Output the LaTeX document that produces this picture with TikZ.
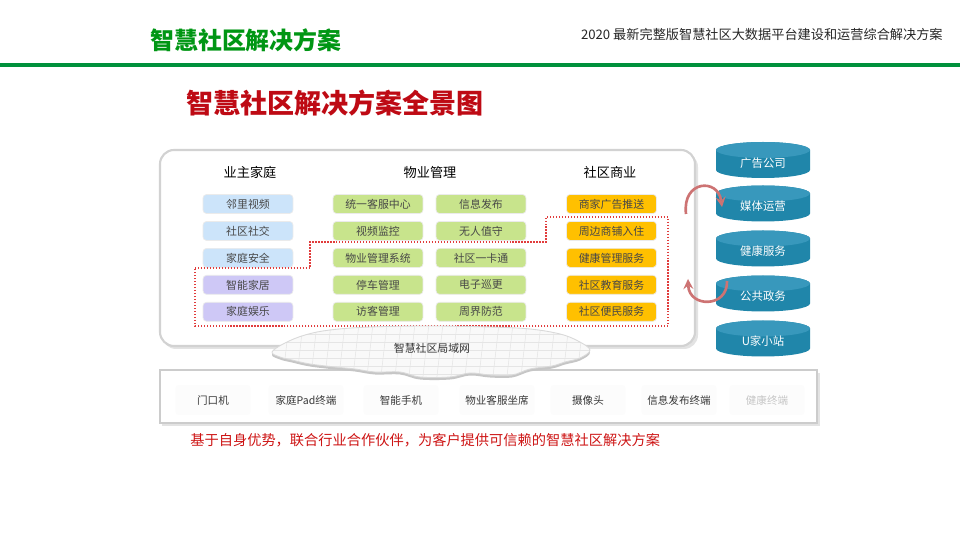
\documentclass[tikz,border=0pt]{standalone}
\usepackage{fontspec}
\setmainfont{Noto Sans CJK SC}
\usetikzlibrary{positioning}

\definecolor{hdgreen}{RGB}{0,150,20}
\definecolor{linegreen}{RGB}{0,145,60}
\definecolor{titlered}{RGB}{190,10,20}
\definecolor{fillblue}{RGB}{204,228,250}
\definecolor{fillpurple}{RGB}{206,200,246}
\definecolor{fillgreen}{RGB}{200,228,140}
\definecolor{fillorange}{RGB}{255,192,0}
\definecolor{cylblue}{RGB}{32,134,170}
\definecolor{cyltop}{RGB}{56,152,188}
\definecolor{arcred}{RGB}{205,115,115}
\definecolor{dashred}{RGB}{225,60,60}
\definecolor{slogred}{RGB}{205,20,20}

\begin{document}
\begin{tikzpicture}[x=0.02cm,y=-0.02cm]

% definitions
\tikzstyle{box} = [rectangle, rounded corners=2pt, minimum width=1.8cm, minimum height=0.38cm, inner sep=0pt, text centered, draw=black!8, text=black!72, font=\fontsize{6.2}{7}\selectfont]
\tikzstyle{colhead} = [font=\fontsize{7.5}{9}\selectfont, text=black]
\tikzstyle{cyltext} = [text=white, font=\fontsize{6.5}{8}\selectfont]
\tikzstyle{devbox} = [rectangle, rounded corners=2pt, fill=gray!2, minimum width=1.5cm, minimum height=0.6cm, text=black!78, font=\fontsize{6}{7}\selectfont]
\tikzstyle{arrow} = [->,>=stealth, line width=1.5pt, arcred]
\tikzstyle{cloud} = [fill=gray!5, draw=gray!30, line width=0.5pt, path picture={
    \foreach \gx in {262,276,...,600} \draw[gray!20, line width=0.3pt] (\gx,315) -- (\gx-8,385);
    \foreach \gy in {334,342,...,380} \draw[gray!20, line width=0.3pt] (255,\gy) -- (600,\gy);
  }]
\tikzset{node distance=0.145cm}

\useasboundingbox (0,0) rectangle (960,540);

% header
\node (title) [anchor=west, inner sep=0pt, text=hdgreen, font=\fontsize{13.6}{16}\selectfont\bfseries] at (150,40) {智慧社区解决方案};
\node (doc) [anchor=east, inner sep=0pt, text=black!85, font=\fontsize{7.5}{9}\selectfont] at (943,34) {2020 最新完整版智慧社区大数据平台建设和运营综合解决方案};
\fill[linegreen] (0,63.5) rectangle (960,67.5);

\node (heading) [anchor=west, inner sep=0pt, text=titlered, font=\fontsize{15.4}{18}\selectfont\bfseries] at (186,103) {智慧社区解决方案全景图};

% main panel
\fill[gray!22, rounded corners=8pt] (162,153) rectangle (698,349);
\draw[gray!35, fill=white, line width=1.2pt, rounded corners=8pt] (160,150) rectangle (695,346);

\node (jt) [colhead] at (250,172) {业主家庭};
\node (wy) [colhead] at (430,172) {物业管理};
\node (sq) [colhead] at (610,172) {社区商业};

% owner families
\node (jt1) [box, fill=fillblue] at (248,204) {邻里视频};
\node (jt2) [box, fill=fillblue, below=of jt1] {社区社交};
\node (jt3) [box, fill=fillblue, below=of jt2] {家庭安全};
\node (jt4) [box, fill=fillpurple, below=of jt3] {智能家居};
\node (jt5) [box, fill=fillpurple, below=of jt4] {家庭娱乐};

% property management
\node (wa1) [box, fill=fillgreen] at (378,204) {统一客服中心};
\node (wa2) [box, fill=fillgreen, below=of wa1] {视频监控};
\node (wa3) [box, fill=fillgreen, below=of wa2] {物业管理系统};
\node (wa4) [box, fill=fillgreen, below=of wa3] {停车管理};
\node (wa5) [box, fill=fillgreen, below=of wa4] {访客管理};

\node (wb1) [box, fill=fillgreen] at (481,204) {信息发布};
\node (wb2) [box, fill=fillgreen, below=of wb1] {无人值守};
\node (wb3) [box, fill=fillgreen, below=of wb2] {社区一卡通};
\node (wb4) [box, fill=fillgreen, below=of wb3] {电子巡更};
\node (wb5) [box, fill=fillgreen, below=of wb4] {周界防范};

% community business
\node (sq1) [box, fill=fillorange] at (611.5,204) {商家广告推送};
\node (sq2) [box, fill=fillorange, below=of sq1] {周边商铺入住};
\node (sq3) [box, fill=fillorange, below=of sq2] {健康管理服务};
\node (sq4) [box, fill=fillorange, below=of sq3] {社区教育服务};
\node (sq5) [box, fill=fillorange, below=of sq4] {社区便民服务};

\draw[dashred, densely dotted, line width=0.7pt] (195,268) -- (310,268) -- (310,242) -- (546,242) -- (546,217) -- (668,217) -- (668,326) -- (195,326) -- cycle;

% device panel and cloud
\fill[gray!22] (162,373) rectangle (820,426);
\draw[gray!40, fill=white, line width=0.8pt] (160,370) rectangle (817,423);

\fill[gray!45, yshift=-0.05cm] plot[smooth cycle, tension=0.6] coordinates {(272,352) (285,343) (305,335) (330,330) (370,327) (430,326) (490,327) (530,329) (560,334) (578,341) (590,350) (580,358) (565,362) (552,366) (530,369) (512,375) (490,375) (470,373) (450,377) (420,377) (400,372) (375,372) (355,369) (335,367) (310,364) (292,360) (280,357)};
\draw[cloud] plot[smooth cycle, tension=0.6] coordinates {(272,352) (285,343) (305,335) (330,330) (370,327) (430,326) (490,327) (530,329) (560,334) (578,341) (590,350) (580,358) (565,362) (552,366) (530,369) (512,375) (490,375) (470,373) (450,377) (420,377) (400,372) (375,372) (355,369) (335,367) (310,364) (292,360) (280,357)};
\node (lan) [text=black!80, font=\fontsize{6.2}{7}\selectfont] at (432,348) {智慧社区局域网};

\foreach \x/\n/\t in {213/dev1/门口机, 306/dev2/家庭Pad终端, 401/dev3/智能手机, 497/dev4/物业客服坐席, 588/dev5/摄像头, 679/dev6/信息发布终端}
  \node (\n) [devbox] at (\x,400) {\t};
\node (dev7) [devbox, text=gray!45] at (767,400) {健康终端};

\node (slogan) [anchor=west, inner sep=0pt, text=slogred, font=\fontsize{8.1}{10}\selectfont] at (190,440) {基于自身优势，联合行业合作伙伴，为客户提供可信赖的智慧社区解决方案};

% partner cylinders
\foreach \n/\cy/\t in {gg/160/广告公司, mt/203.5/媒体运营, jk/248.5/健康服务, gz/293.5/公共政务, uj/338.5/U家小站} {
  \fill[cylblue] (716,\cy-10) -- (716,\cy+10) arc[start angle=180, end angle=0, x radius=47, y radius=8] -- (810,\cy-10) arc[start angle=0, end angle=-180, x radius=47, y radius=8] -- cycle;
  \fill[cyltop] (763,\cy-10) ellipse[x radius=47, y radius=8];
  \node (\n) [cyltext] at (763,\cy+3) {\t};
}

% loop arrows
\coordinate (up1) at (686,214);
\coordinate (up2) at (722,207);
\coordinate (lo1) at (727,281);
\coordinate (lo2) at (688,279);
\draw [arrow] (up1) .. controls (682,180) and (718,178) .. (up2);
\draw [arrow] (lo1) .. controls (728,308) and (689,308) .. (lo2);

\end{tikzpicture}
\end{document}
